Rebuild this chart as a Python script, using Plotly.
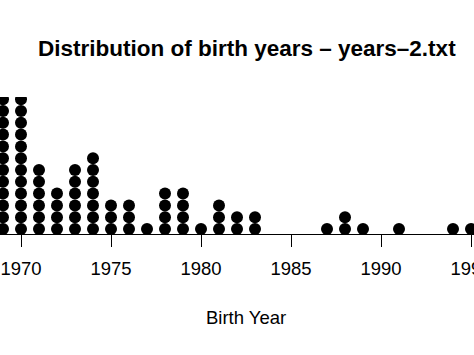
import plotly.graph_objects as go

years = [1969, 1970, 1971, 1972, 1973, 1974, 1975, 1976, 1977, 1978, 1979,
         1980, 1981, 1982, 1983, 1987, 1988, 1989, 1991, 1994, 1995]
counts = [12, 12, 6, 4, 6, 7, 3, 3, 1, 4, 4, 1, 3, 2, 2, 1, 2, 1, 1, 1, 1]
tick_vals = [1970, 1975, 1980, 1985, 1990, 1995]
title_text = "Distribution of birth years \u2013 years\u20132.txt"
x_title = "Birth Year"

xs, ys = [], []
for yr, c in zip(years, counts):
    for k in range(1, c + 1):
        xs.append(yr)
        ys.append(k)

FONT = "Liberation Sans, Arial, Helvetica, sans-serif"

fig = go.Figure(go.Scatter(
    x=xs, y=ys, mode="markers",
    marker=dict(size=12, color="black", line=dict(width=0)),
    hoverinfo="skip", cliponaxis=True,
))

fig.update_layout(
    width=474, height=355,
    margin=dict(l=0, r=0, t=97, b=121, pad=0, autoexpand=False),
    paper_bgcolor="white", plot_bgcolor="white",
    showlegend=False,
    font=dict(family=FONT, color="black"),
    xaxis=dict(
        range=[1970 - 21 / 18, 1970 + 453 / 18],
        tickmode="array", tickvals=tick_vals,
        ticktext=[str(v) for v in tick_vals],
        ticks="outside", ticklen=12, tickwidth=1, tickcolor="black",
        showline=True, linecolor="black", linewidth=1,
        showgrid=False, zeroline=False,
        tickfont=dict(size=18.5, family=FONT, color="black"),
        ticklabelstandoff=6,
        ticklabeloverflow="allow",
        automargin=False,
    ),
    yaxis=dict(
        range=[0.576, 12.186], visible=False, showgrid=False, zeroline=False,
        automargin=False,
    ),
    annotations=[
        dict(text="<b>" + title_text + "</b>", xref="paper", yref="paper",
             x=246.5 / 474, y=1 + (97 - 48) / 137,
             xanchor="center", yanchor="middle", showarrow=False,
             font=dict(size=22.5, family=FONT, color="black")),
        dict(text=x_title, xref="paper", yref="paper",
             x=246 / 474, y=-(317 - 234) / 137,
             xanchor="center", yanchor="middle", showarrow=False,
             font=dict(size=18.5, family=FONT, color="black")),
    ],
)

fig.write_html("out.html", config={"displayModeBar": False},
               post_script="document.body.style.margin='0';document.body.style.overflow='hidden';")
